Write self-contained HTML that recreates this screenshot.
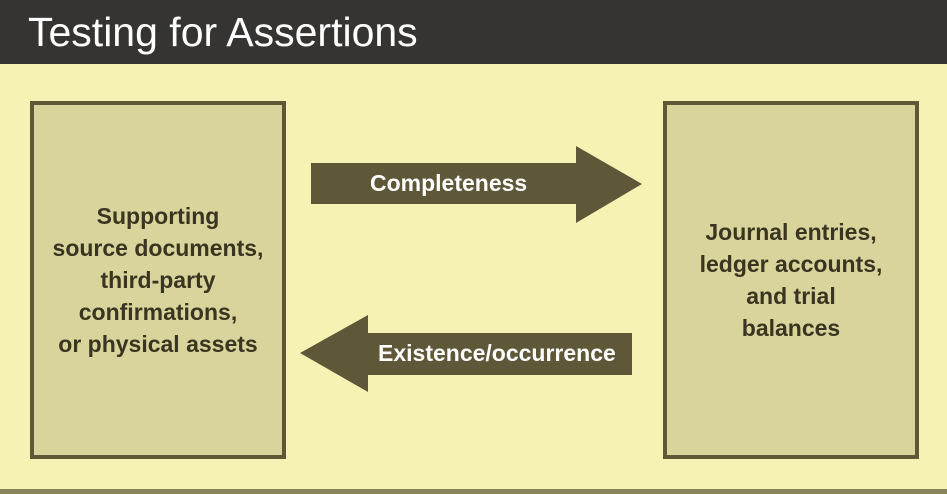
<!DOCTYPE html>
<html><head><style>
body{margin:0;width:947px;height:494px;overflow:hidden;background:#f6f2b4;font-family:"Liberation Sans",sans-serif}
.hdr{position:absolute;left:0;top:0;width:947px;height:64px;background:#353432}
.hdr span{position:absolute;left:28px;top:9px;color:#fff;font-size:41px}
.box{position:absolute;top:101px;width:248px;height:350px;border:4px solid #5e5838;background:#d9d39c;display:flex;align-items:center;justify-content:center;text-align:center;font-weight:bold;color:#3a3520;font-size:23px;line-height:32px}
.lbl{position:absolute;color:#fff;font-size:23px;font-weight:bold}
.bot{position:absolute;left:0;top:489px;width:947px;height:5px;background:#8a845c}
</style></head><body>
<div class="hdr"><span>Testing for Assertions</span></div>
<div class="box" style="left:30px">Supporting<br>source documents,<br>third-party<br>confirmations,<br>or physical assets</div>
<div class="box" style="left:663px">Journal entries,<br>ledger accounts,<br>and trial<br>balances</div>
<svg style="position:absolute;left:0;top:0" width="947" height="494">
<polygon points="311,163 576,163 576,146 642,184 576,223 576,204 311,204" fill="#5e5838"/>
<polygon points="632,333 368,333 368,315 300,353 368,392 368,375 632,375" fill="#5e5838"/>
</svg>
<div class="lbl" style="left:370px;top:170px">Completeness</div>
<div class="lbl" style="left:378px;top:340px">Existence/occurrence</div>
<div class="bot"></div>
</body></html>
